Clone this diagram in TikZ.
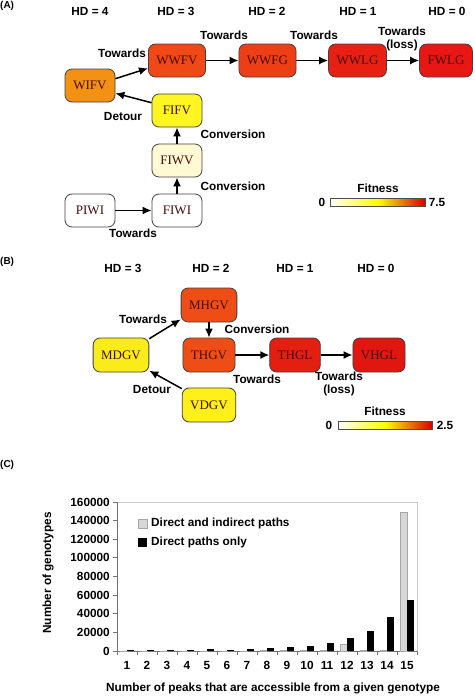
\documentclass[tikz,border=0pt]{standalone}
\usepackage{fontspec}
\setmainfont{Liberation Serif}
\newfontfamily\labfont{Liberation Sans}
\usetikzlibrary{arrows.meta}
\definecolor{nodetext}{RGB}{70,12,8}
\definecolor{fitWIFV}{RGB}{242,145,20}
\definecolor{fitWWFV}{RGB}{240,72,22}
\definecolor{fitWWFG}{RGB}{238,62,22}
\definecolor{fitWWLG}{RGB}{232,32,20}
\definecolor{fitFWLG}{RGB}{232,22,20}
\definecolor{fitFIFV}{RGB}{255,245,35}
\definecolor{fitFIWV}{RGB}{255,250,212}
\definecolor{fitMHGV}{RGB}{238,78,22}
\definecolor{fitMDGV}{RGB}{250,236,25}
\definecolor{fitTHGL}{RGB}{228,30,16}
\definecolor{fitVHGL}{RGB}{225,22,16}
\definecolor{fitVDGV}{RGB}{255,240,25}
\definecolor{bargray}{RGB}{215,215,215}

\begin{document}
\begin{tikzpicture}[x=1pt,y=-1pt,
  geno/.style={draw=black!75, line width=0.8pt, rounded corners=7pt, minimum width=50pt, minimum height=33pt, inner xsep=8pt, font=\fontsize{13}{15}\selectfont, text=nodetext},
  lab/.style={font=\fontsize{11.8}{13.5}\labfont\bfseries, inner sep=1pt},
  move/.style={-{Latex[length=9pt,width=8pt]}, line width=1.5pt},
  fitbar/.style={draw=black!70, line width=0.6pt, left color=white, right color=red!85!black, middle color=yellow}]
\useasboundingbox (0,0) rectangle (474,696);

\node[lab, font=\fontsize{10}{12}\labfont\bfseries, anchor=west] (pA) at (-1,6) {(A)};
\node[lab] (hdA4) at (90,11) {HD = 4};
\node[lab] (hdA3) at (176,11) {HD = 3};
\node[lab] (hdA2) at (267,11) {HD = 2};
\node[lab] (hdA1) at (358,11) {HD = 1};
\node[lab] (hdA0) at (447,11) {HD = 0};

\node[geno, fill=fitWIFV] (WIFV) at (90,85.5) {WIFV};
\node[geno, fill=fitWWFV] (WWFV) at (177,60.5) {WWFV};
\node[geno, fill=fitWWFG] (WWFG) at (267.5,60.5) {WWFG};
\node[geno, fill=fitWWLG] (WWLG) at (357.5,60.5) {WWLG};
\node[geno, fill=fitFWLG] (FWLG) at (446,60.5) {FWLG};
\node[geno, fill=fitFIFV] (FIFV) at (177,110.5) {FIFV};
\node[geno, fill=fitFIWV] (FIWV) at (177,160.5) {FIWV};
\node[geno, fill=white] (FIWI) at (177,210.5) {FIWI};
\node[geno, fill=white] (PIWI) at (90,210.5) {PIWI};

\draw[move] (WIFV.15) -- (WWFV.195);
\draw[move] (WWFV) -- (WWFG);
\draw[move] (WWFG) -- (WWLG);
\draw[move] (WWLG) -- (FWLG);
\draw[move] (FIFV.163) -- (WIFV.-17);
\draw[move] (FIWV) -- (FIFV);
\draw[move] (FIWI) -- (FIWV);
\draw[move] (PIWI) -- (FIWI);

\node[lab] (tA1) at (122,53) {Towards};
\node[lab] (tA2) at (224,35) {Towards};
\node[lab] (tA3) at (314,35) {Towards};
\node[lab, align=center] (tA4) at (402,39) {Towards\\(loss)};
\node[lab] (dA) at (123,116) {Detour};
\node[lab] (cA1) at (233,134) {Conversion};
\node[lab] (cA2) at (233,186) {Conversion};
\node[lab] (tA5) at (133,233) {Towards};

\node[lab] (fitA) at (378,188) {Fitness};
\shade[fitbar] (330,198) rectangle (425,206);
\node[lab] (fitA0) at (322,202) {0};
\node[lab] (fitA1) at (437,202) {7.5};

\node[lab, font=\fontsize{10}{12}\labfont\bfseries, anchor=west] (pB) at (-1,262) {(B)};
\node[lab] (hdB3) at (123,268) {HD = 3};
\node[lab] (hdB2) at (211,268) {HD = 2};
\node[lab] (hdB1) at (295,268) {HD = 1};
\node[lab] (hdB0) at (376,268) {HD = 0};

\node[geno, fill=fitMHGV, minimum height=34pt] (MHGV) at (209,305) {MHGV};
\node[geno, fill=fitMDGV, minimum height=34pt] (MDGV) at (121,355) {MDGV};
\node[geno, fill=fitMHGV, minimum height=34pt] (THGV) at (209,355) {THGV};
\node[geno, fill=fitTHGL, minimum height=34pt] (THGL) at (295,355) {THGL};
\node[geno, fill=fitVHGL, minimum height=34pt] (VHGL) at (379,355) {VHGL};
\node[geno, fill=fitVDGV, minimum height=34pt] (VDGV) at (209,405) {VDGV};

\draw[move] (MDGV.30) -- (MHGV.207);
\draw[move] (MHGV) -- (THGV);
\draw[move] (THGV) -- (THGL);
\draw[move] (THGL) -- (VHGL);
\draw[move] (VDGV.149) -- (MDGV.331);

\node[lab] (tB1) at (143,319) {Towards};
\node[lab] (cB) at (257,329) {Conversion};
\node[lab] (tB2) at (257,379) {Towards};
\node[lab, align=center] (tB3) at (339,384) {Towards\\(loss)};
\node[lab] (dB) at (152,389) {Detour};

\node[lab] (fitB) at (385,411) {Fitness};
\shade[fitbar] (338,421) rectangle (432,429);
\node[lab] (fitB0) at (329,425) {0};
\node[lab] (fitB1) at (445,425) {2.5};

\node[lab, font=\fontsize{10}{12}\labfont\bfseries, anchor=west] (pC) at (-1,465) {(C)};
\draw[black!20, line width=0.8pt] (117,502) rectangle (417,651);
\draw[black!55, line width=0.8pt] (117,502) -- (117,651) -- (417,651);
\foreach \k/\v in {0/0,1/20000,2/40000,3/60000,4/80000,5/100000,6/120000,7/140000,8/160000} {
  \draw[black!55, line width=0.8pt] (113,{651-18.625*\k}) -- (117,{651-18.625*\k});
  \node[lab, anchor=east] (yt\k) at (111,{651-18.625*\k}) {\v};
}
\foreach \j in {0,...,15}
  \draw[black!55, line width=0.8pt] ({117+20*\j},651) -- ({117+20*\j},655);
\foreach \i/\g/\b in {1/0.3/1.0,2/0.2/0.8,3/0.2/1.1,4/0.2/1.0,5/0.3/1.7,6/0.2/1.4,7/0.3/1.9,8/0.4/2.7,9/0.4/3.8,10/0.5/5.8,11/0.9/8.5,12/7.0/14.5,13/1.2/22.0,14/0.8/36.5,15/149/55} {
  \filldraw[fill=bargray, draw=black!35, line width=0.4pt] ({100+20*\i},651) rectangle ({107+20*\i},{651-0.93125*\g});
  \fill[black] ({107+20*\i},651) rectangle ({114+20*\i},{651-0.93125*\b});
  \node[lab] (xt\i) at ({107+20*\i},665) {\i};
}
\filldraw[fill=bargray, draw=black!35, line width=0.4pt] (138,519) rectangle (147,528);
\node[lab, anchor=west] (legG) at (150,523) {Direct and indirect paths};
\fill[black] (138,538) rectangle (147,547);
\node[lab, anchor=west] (legB) at (150,542) {Direct paths only};
\node[lab, rotate=90] (ytitle) at (48,573) {Number of genotypes};
\node[lab] (xtitle) at (273,688) {Number of peaks that are accessible from a given genotype};
\end{tikzpicture}
\end{document}
